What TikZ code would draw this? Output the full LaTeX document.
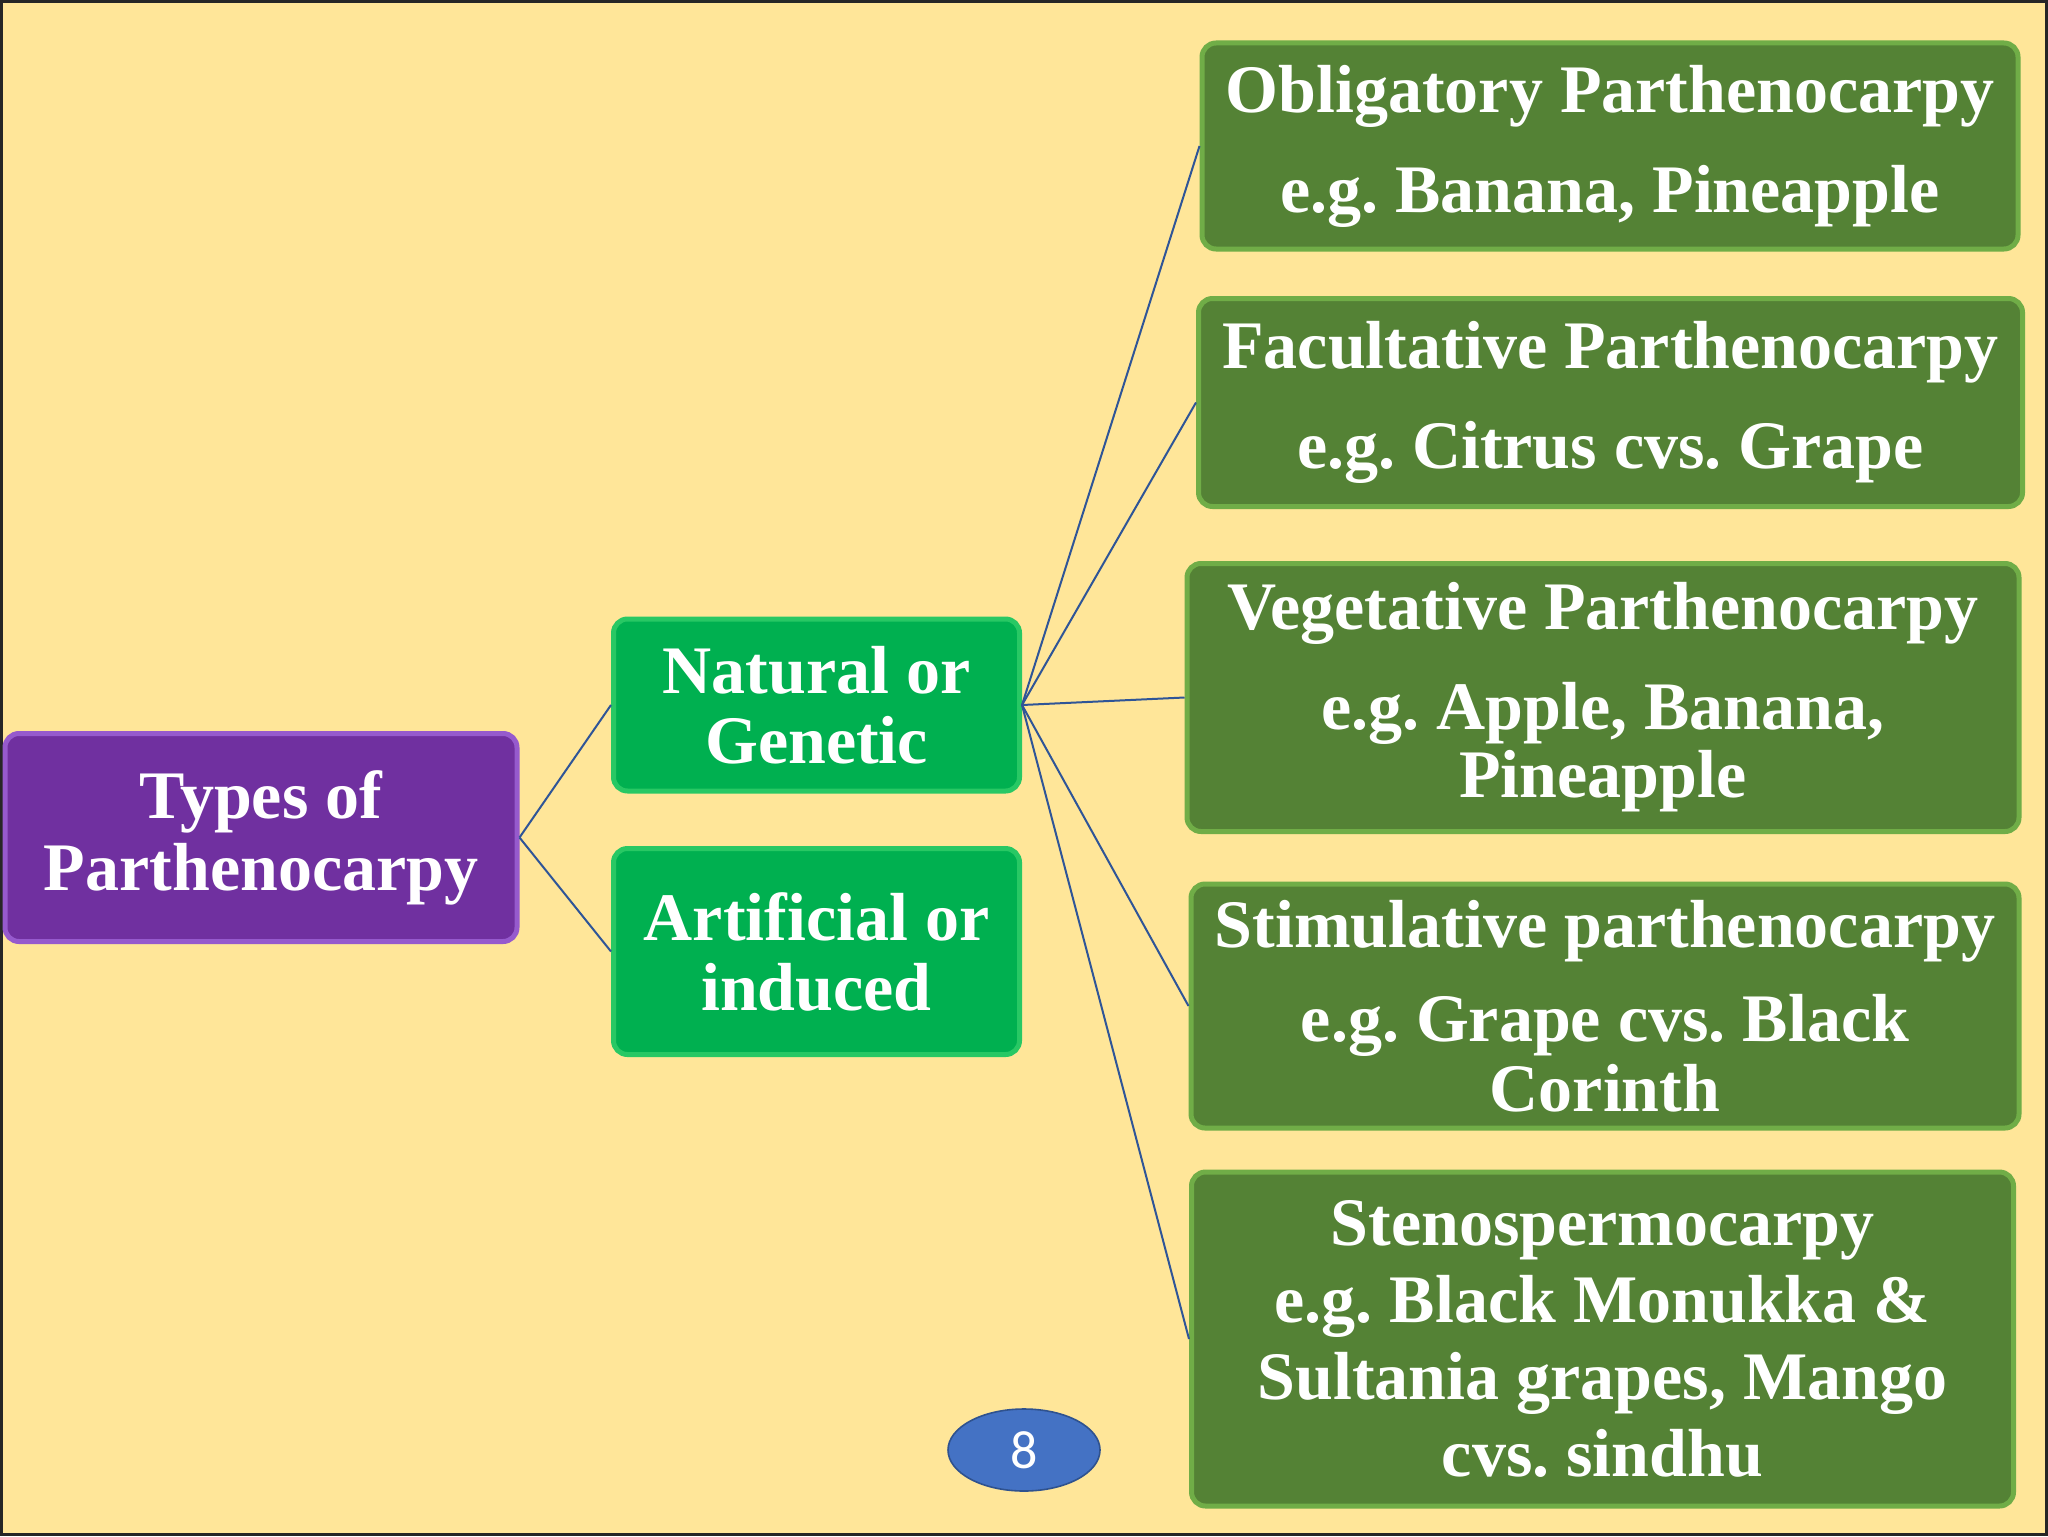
\documentclass[tikz,border=0pt]{standalone}
\usepackage{fontspec}
\setmainfont{Liberation Serif}
\newfontfamily\pnfont{Carlito}
\usetikzlibrary{shapes.geometric}
\definecolor{bgyellow}{RGB}{255,230,153}
\definecolor{purplefill}{RGB}{112,48,160}
\definecolor{purplerim}{RGB}{150,90,205}
\definecolor{brightgreen}{RGB}{0,176,80}
\definecolor{brightrim}{RGB}{40,200,100}
\definecolor{darkgreen}{RGB}{84,130,53}
\definecolor{darkrim}{RGB}{112,173,71}
\definecolor{connblue}{RGB}{47,85,151}
\definecolor{pnblue}{RGB}{68,114,196}
\definecolor{pnrim}{RGB}{47,82,143}
\tikzset{
  boxbase/.style={rectangle, rounded corners=7pt, inner sep=0pt, line width=2.5pt,
    text=white, align=center, font=\fontsize{34}{35}\selectfont\bfseries},
  purplebox/.style={boxbase, fill=purplefill, draw=purplerim},
  midbox/.style={boxbase, fill=brightgreen, draw=brightrim},
  rightbox/.style={boxbase, fill=darkgreen, draw=darkrim},
  conn/.style={draw=connblue, line width=1pt},
}
\begin{document}
\frenchspacing
\begin{tikzpicture}[x=0.5pt,y=-0.5pt]
\fill[bgyellow] (0,0) rectangle (2048,1536);
\draw[black!85, line width=1.5pt] (1.5,1.5) rectangle (2046.5,1534.5);
\useasboundingbox (0,0) rectangle (2048,1536);

\node[purplebox, minimum width=256pt, minimum height=104pt, font=\fontsize{34}{36}\selectfont\bfseries] (types) at (261,837.5) {Types of\\Parthenocarpy};

\node[midbox, minimum width=203pt, minimum height=86pt] (natural) at (816.5,705) {Natural or\\Genetic};
\node[midbox, minimum width=203pt, minimum height=103pt] (artificial) at (816.5,951.5) {Artificial or\\induced};

\node[rightbox, minimum width=408pt, minimum height=103pt] (oblig) at (1610,146) {Obligatory Parthenocarpy\\[15pt]e.g. Banana, Pineapple};
\node[rightbox, minimum width=412pt, minimum height=104pt] (facult) at (1610.5,402.5) {Facultative Parthenocarpy\\[15pt]e.g. Citrus cvs. Grape};
\node[rightbox, minimum width=416pt, minimum height=134pt, font=\fontsize{34}{34}\selectfont\bfseries] (veget) at (1603,697.5) {Vegetative Parthenocarpy\\[16pt]e.g. Apple, Banana,\\Pineapple};
\node[rightbox, minimum width=414pt, minimum height=122pt] (stimul) at (1605,1006) {Stimulative parthenocarpy\\[12pt]e.g. Grape cvs. Black\\Corinth};
\node[rightbox, minimum width=411pt, minimum height=167pt, font=\fontsize{34}{38.5}\selectfont\bfseries] (steno) at (1602.5,1339) {Stenospermocarpy\\e.g. Black Monukka \&\\Sultania grapes, Mango\\cvs. sindhu};

\node[ellipse, fill=pnblue, draw=pnrim, line width=0.8pt, minimum width=76pt, minimum height=41pt, inner sep=0pt, text=white, font=\pnfont\fontsize{27}{29}\selectfont] (pagenum) at (1024,1450) {8};

\draw[conn] (types.east) -- (natural.west);
\draw[conn] (types.east) -- (artificial.west);
\draw[conn] (natural.east) -- (oblig.west);
\draw[conn] (natural.east) -- (facult.west);
\draw[conn] (natural.east) -- (veget.west);
\draw[conn] (natural.east) -- (stimul.west);
\draw[conn] (natural.east) -- (steno.west);
\end{tikzpicture}
\end{document}
